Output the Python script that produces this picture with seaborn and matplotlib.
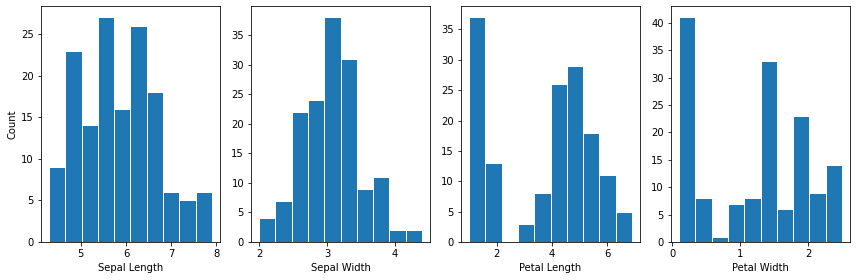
import numpy as np
import pandas as pd
import matplotlib
matplotlib.use("Agg")
import matplotlib.pyplot as plt
import seaborn as sns

# Feature names (x-axis labels)
features = ["Sepal Length", "Sepal Width", "Petal Length", "Petal Width"]
# Histogram ranges (min, max of each feature)
range_lo = [4.3, 2.0, 1.0, 0.1]
range_hi = [7.9, 4.4, 6.9, 2.5]
# Counts per bin (10 bins each)
sepal_length_counts = [9, 23, 14, 27, 16, 26, 18, 6, 5, 6]
sepal_width_counts = [4, 7, 22, 24, 38, 31, 9, 11, 2, 2]
petal_length_counts = [37, 13, 0, 3, 8, 26, 29, 18, 11, 5]
petal_width_counts = [41, 8, 1, 7, 8, 33, 6, 23, 9, 14]
all_counts = [sepal_length_counts, sepal_width_counts, petal_length_counts, petal_width_counts]

plt.rcParams["font.family"] = ["DejaVu Sans"]
plt.rcParams["font.size"] = 10

fig, axes = plt.subplots(1, 4, figsize=(856 / 72, 280 / 72), dpi=72)
fig.subplots_adjust(left=41 / 856, right=850 / 856, top=1 - 6 / 280, bottom=1 - 242 / 280,
                    wspace=31 / 179)

for i, ax in enumerate(axes):
    edges = np.linspace(range_lo[i], range_hi[i], len(all_counts[i]) + 1)
    centers = (edges[:-1] + edges[1:]) / 2
    df = pd.DataFrame({"x": centers, "w": all_counts[i]})
    sns.histplot(data=df, x="x", weights="w", bins=[float(e) for e in edges], ax=ax,
                 color="#1f77b4", alpha=1, edgecolor="white", linewidth=1)
    ax.set_xlabel(features[i])
    if i == 0:
        ax.set_ylabel("Count")
    else:
        ax.set_ylabel("")

fig.savefig("out.png", dpi=72)
